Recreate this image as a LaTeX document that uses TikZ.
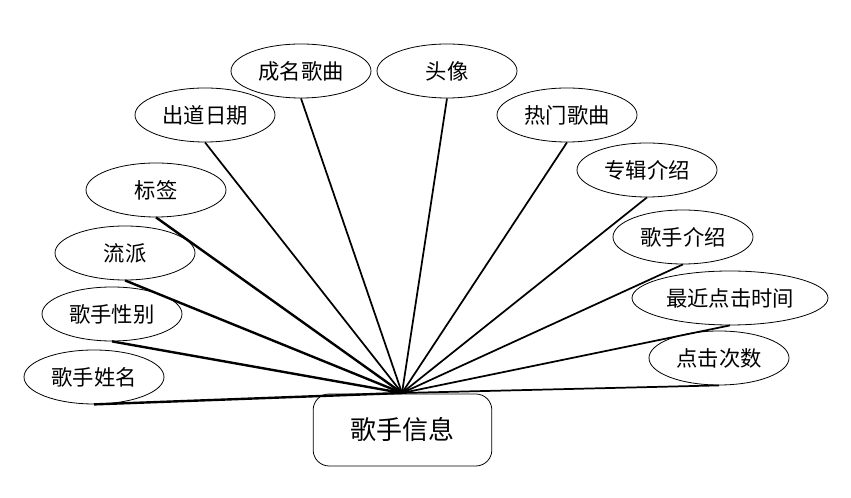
\documentclass[tikz,border=0pt]{standalone}
\usepackage{fontspec}
\setmainfont{Noto Sans CJK SC}
\usetikzlibrary{shapes.geometric}
\begin{document}
\begin{tikzpicture}[x=0.75pt,y=-0.75pt,
  attr/.style={draw,ellipse,line width=0.6pt,minimum width=105pt,minimum height=40.5pt,inner sep=0pt,font=\fontsize{16}{18}\selectfont},
  ent/.style={draw,rounded corners=12pt,line width=0.6pt,minimum width=134pt,minimum height=54pt,inner sep=0pt,font=\fontsize{19.5}{22}\selectfont},
  conn/.style={line width=1.3pt},
  connb/.style={line width=1.8pt}]
\useasboundingbox (0,0) rectangle (851,498);
\node[attr] (xm) at (94,377) {歌手姓名};
\node[attr] (xb) at (112,314) {歌手性别};
\node[attr] (lp) at (125,253) {流派};
\node[attr] (bq) at (156,190) {标签};
\node[attr] (cd) at (205,115) {出道日期};
\node[attr] (cm) at (301,71) {成名歌曲};
\node[attr] (tx) at (447,71) {头像};
\node[attr] (rm) at (567,115) {热门歌曲};
\node[attr] (zj) at (647,170) {专辑介绍};
\node[attr] (js) at (683,237) {歌手介绍};
\node[attr,minimum width=147pt] (zj2) at (730,298) {最近点击时间};
\node[attr] (cs) at (719,358) {点击次数};
\node[ent] (gs) at (402.5,430) {歌手信息};
\coordinate (hub) at (402,393);
\draw[connb] (xm.south) -- (hub);
\draw[connb] (xb.south) -- (hub);
\draw[connb] (lp.south) -- (hub);
\draw[connb] (bq.south) -- (hub);
\draw[conn] (cd.south) -- (hub);
\draw[conn] (cm.south) -- (hub);
\draw[conn] (tx.south) -- (hub);
\draw[conn] (rm.south) -- (hub);
\draw[conn] (zj.south) -- (hub);
\draw[conn] (js.south) -- (hub);
\draw[conn] (zj2.south) -- (hub);
\draw[conn] (cs.south) -- (hub);
\end{tikzpicture}
\end{document}
